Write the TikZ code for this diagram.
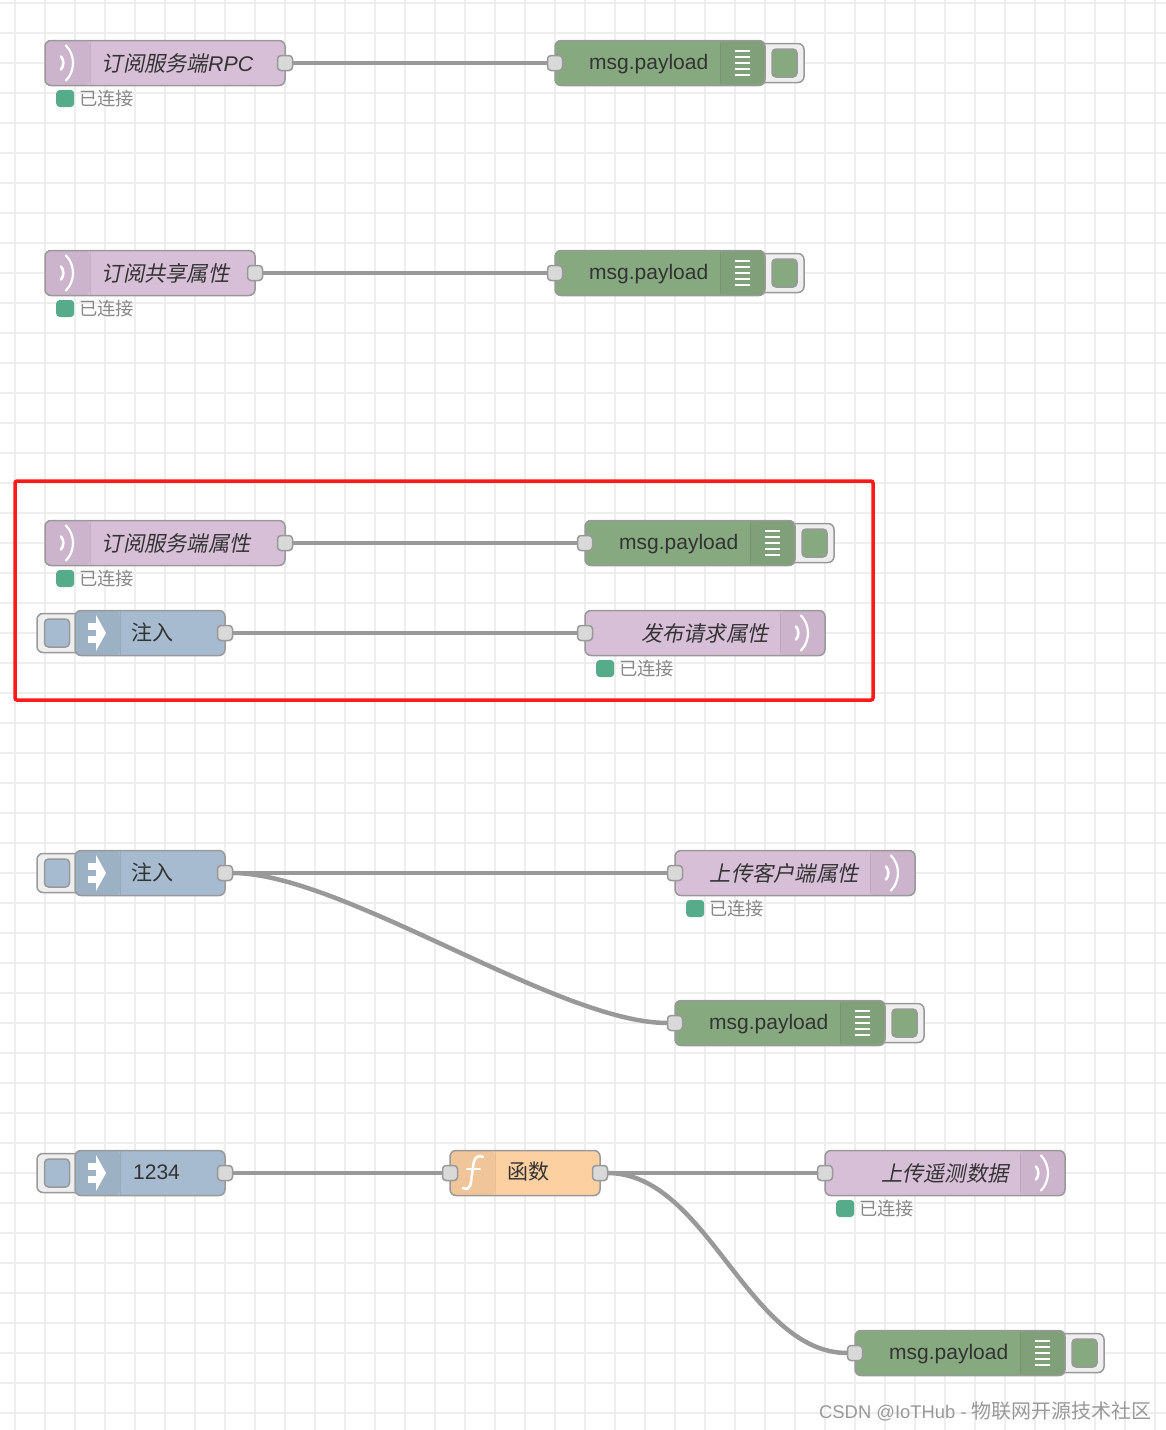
\documentclass[tikz,border=0pt]{standalone}
\usepackage{fontspec}
\setmainfont{Liberation Sans}
\newfontfamily\cjk{Noto Sans CJK SC}
\newfontfamily\cjkit[FakeSlant=0.2]{Noto Sans CJK SC}
\definecolor{gridline}{HTML}{EEEEEE}
\definecolor{nodeline}{HTML}{999999}
\definecolor{portfill}{HTML}{D9D9D9}
\definecolor{btnfill}{HTML}{EEEEEE}
\definecolor{debugfill}{HTML}{87A980}
\definecolor{injectfill}{HTML}{A6BBCF}
\definecolor{funcfill}{HTML}{FDD0A2}
\definecolor{mqttfill}{HTML}{D8BFD8}
\definecolor{okfill}{HTML}{55AB8A}
\definecolor{labeltext}{HTML}{333333}
\definecolor{statustext}{HTML}{888888}
\definecolor{redbox}{HTML}{FF1A1A}
\tikzset{
  leftband/.style={path picture={
    \fill[black,opacity=0.05] (path picture bounding box.north west) rectangle ([xshift=45pt]path picture bounding box.south west);
    \draw[black,opacity=0.08,line width=1pt] ([xshift=45pt]path picture bounding box.north west) -- ([xshift=45pt]path picture bounding box.south west);
  }},
  rightband/.style={path picture={
    \fill[black,opacity=0.05] (path picture bounding box.north east) rectangle ([xshift=-45pt]path picture bounding box.south east);
    \draw[black,opacity=0.08,line width=1pt] ([xshift=-45pt]path picture bounding box.north east) -- ([xshift=-45pt]path picture bounding box.south east);
  }},
  pics/waves/.style={code={
    \draw[iconline] (-1.5,-17.5) .. controls (7.8,-8) and (7.8,8) .. (-1.5,17.5);
    \draw[iconline,line width=2.6pt] (-6.5,-6.5) .. controls (-3.4,-3) and (-3.4,3) .. (-6.5,6.5);
  }},
  pics/status/.style={code={
    \node[okdot,anchor=west] (-dot) at (0,0) {};
    \node[statuslabel,anchor=west] (-text) at (23,0) {已连接};
  }},
  % width, label
  pics/mqttin/.style n args={2}{code={
    \node[nodebody,fill=mqttfill,minimum width=#1pt,anchor=west,leftband] (-body) at (0,0) {};
    \pic at (22.5,0) {waves};
    \node[italiclabel,anchor=west] (-text) at (56.5,0) {#2};
    \node[port] (-port) at (-body.east) {};
    \pic (-state) at (11,35.5) {status};
  }},
  pics/mqttout/.style n args={2}{code={
    \node[nodebody,fill=mqttfill,minimum width=#1pt,anchor=west,rightband] (-body) at (0,0) {};
    \pic at (#1-22.5,0) {waves};
    \node[italiclabel,anchor=east] (-text) at (#1-56,0) {#2};
    \node[port] (-port) at (-body.west) {};
    \pic (-state) at (11,35.5) {status};
  }},
  pics/debugnode/.style={code={
    \node[btnbox,anchor=west] (-btn) at (191,0) {};
    \node[btnface,fill=debugfill] (-face) at (229.5,0) {};
    \node[nodebody,fill=debugfill,minimum width=210pt,anchor=west,rightband] (-body) at (0,0) {};
    \foreach \y in {-12,-6,0,6,12}
      \draw[white,line width=1.8pt] (180,\y) -- (195,\y);
    \node[flowlabel,font=\rmfamily\fontsize{21}{21}\selectfont,anchor=west] (-text) at (34,1.5) {msg.payload};
    \node[port] (-port) at (-body.west) {};
  }},
  pics/injectnode/.style n args={2}{code={
    \node[btnbox,anchor=east] (-btn) at (20,0) {};
    \node[btnface,fill=injectfill] (-face) at (-18,0) {};
    \node[nodebody,fill=injectfill,minimum width=150pt,anchor=west,leftband] (-body) at (0,0) {};
    \fill[white] (21,-18) -- (31,0) -- (21,18) -- cycle;
    \fill[white] (12.7,-10) rectangle (22,-3);
    \fill[white] (12.7,3) rectangle (22,10);
    \node[flowlabel,anchor=west] (-text) at (#1,-1) {#2};
    \node[port] (-port) at (-body.east) {};
  }},
  pics/funcnode/.style={code={
    \node[nodebody,fill=funcfill,minimum width=150pt,anchor=west,leftband] (-body) at (0,0) {};
    \draw[iconline,line width=2.6pt] (33,-16) .. controls (26,-19) and (24,-14) .. (23,-6)
      -- (21,9) .. controls (20,16) and (16,17) .. (13,15);
    \draw[iconline] (17,-4) -- (30,-4);
    \node[flowlabel,anchor=west] (-text) at (57,-1) {#1};
    \node[port] (-in) at (-body.west) {};
    \node[port] (-out) at (-body.east) {};
  }}
}
\begin{document}
\begin{tikzpicture}[x=1pt,y=-1pt]
    \tikzstyle{nodebody}=[draw=nodeline,line width=1.5pt,rounded corners=6pt,minimum height=45pt,inner sep=0pt,outer sep=0pt]
    \tikzstyle{port}=[draw=nodeline,line width=1.5pt,fill=portfill,rounded corners=3.5pt,minimum width=15pt,minimum height=15pt,inner sep=0pt,outer sep=0pt]
    \tikzstyle{btnbox}=[draw=nodeline,line width=1.5pt,fill=btnfill,rounded corners=6pt,minimum width=58pt,minimum height=39pt,inner sep=0pt,outer sep=0pt]
    \tikzstyle{btnface}=[draw=nodeline,line width=1.5pt,rounded corners=4pt,minimum width=25pt,minimum height=28pt,inner sep=0pt,outer sep=0pt]
    \tikzstyle{iconline}=[white,line width=2.2pt,line cap=round]
    \tikzstyle{okdot}=[fill=okfill,rounded corners=3.5pt,minimum width=18pt,minimum height=17pt,inner sep=0pt]
    \tikzstyle{statuslabel}=[text=statustext,font=\cjk\fontsize{18.3}{18.3}\selectfont,inner sep=0pt]
    \tikzstyle{flowlabel}=[text=labeltext,font=\cjk\fontsize{21}{21}\selectfont,inner sep=0pt]
    \tikzstyle{italiclabel}=[text=labeltext,font=\cjkit\fontsize{21.3}{21.3}\selectfont,inner sep=0pt]
    \tikzstyle{wire}=[draw=nodeline,line width=4.5pt]
    \useasboundingbox (0,0) rectangle (1166,1430);
    \fill[white] (0,0) rectangle (1166,1430);
    % grid
    \foreach \x in {15,45,...,1155} \draw[gridline,line width=2pt] (\x,0) -- (\x,1430);
    \foreach \y in {3,33,...,1413} \draw[gridline,line width=2pt] (0,\y) -- (1166,\y);
    % highlight
    \draw[redbox,line width=3.5pt,rounded corners=2pt] (15,481) rectangle (873,700);
    % rows of nodes
    \pic (rpc) at (45,63) {mqttin={240}{订阅服务端{\rmfamily\itshape RPC}}};
    \pic (rpcdbg) at (555,63) {debugnode};
    \pic (shared) at (45,273) {mqttin={210}{订阅共享属性}};
    \pic (shareddbg) at (555,273) {debugnode};
    \pic (attr) at (45,543) {mqttin={240}{订阅服务端属性}};
    \pic (attrdbg) at (585,543) {debugnode};
    \pic (inja) at (75,633) {injectnode={56}{注入}};
    \pic (pub) at (585,633) {mqttout={240}{发布请求属性}};
    \pic (injb) at (75,873) {injectnode={56}{注入}};
    \pic (client) at (675,873) {mqttout={240}{上传客户端属性}};
    \pic (clientdbg) at (675,1023) {debugnode};
    \pic (injc) at (75,1173) {injectnode={58}{\rmfamily 1234}};
    \pic (func) at (450,1173) {funcnode={函数}};
    \pic (telem) at (825,1173) {mqttout={240}{上传遥测数据}};
    \pic (telemdbg) at (855,1353) {debugnode};
    % wires
    \draw[wire] (rpc-port) -- (rpcdbg-port);
    \draw[wire] (shared-port) -- (shareddbg-port);
    \draw[wire] (attr-port) -- (attrdbg-port);
    \draw[wire] (inja-port) -- (pub-port);
    \draw[wire] (injb-port) -- (client-port);
    \draw[wire] (injb-port.east) .. controls +(110,0) and +(-110,0) .. (clientdbg-port.west);
    \draw[wire] (injc-port) -- (func-in);
    \draw[wire] (func-out) -- (telem-port);
    \draw[wire] (func-out.east) .. controls +(100,0) and +(-100,0) .. (telemdbg-port.west);
    % watermark
    \node[anchor=east,text=nodeline,inner sep=0pt,font=\fontsize{18.4}{20}\selectfont] (credit) at (1152,1411) {CSDN @IoTHub - {\cjk\fontsize{20}{20}\selectfont 物联网开源技术社区}};
\end{tikzpicture}
\end{document}
